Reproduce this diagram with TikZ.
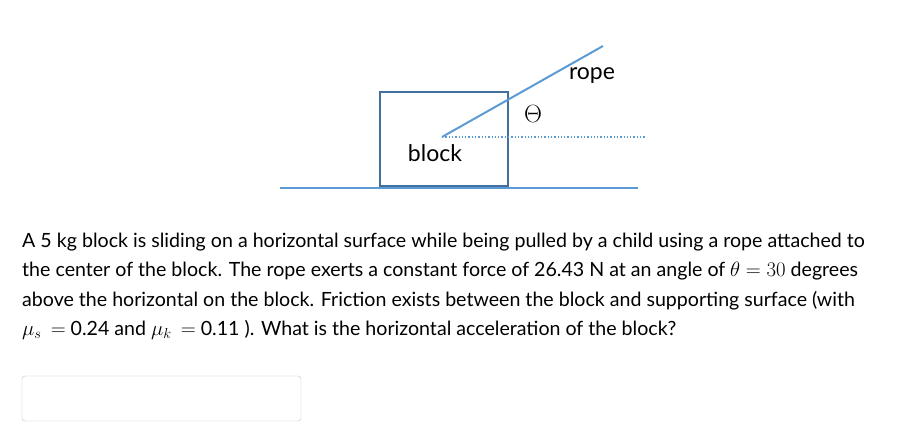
\documentclass[tikz,border=0pt]{standalone}
\usepackage{fontspec}
\setmainfont{Lato}
\definecolor{bl}{HTML}{5B9BD5}
\definecolor{bd}{HTML}{41719C}
\tikzset{txt/.style={anchor=west,inner sep=0pt,font=\fontsize{19.6}{22}\selectfont}}
\begin{document}
\begin{tikzpicture}[x=1pt,y=-1pt]
\useasboundingbox (0,0) rectangle (900,441);
\draw[bd,line width=1.5pt] (380,92) rectangle (508,186);
\draw[bl,line width=2pt] (280,188) coordinate (g1) -- (638,188) coordinate (g2);
\coordinate (c) at (442,137);
\coordinate (r) at (603,46);
\coordinate (d) at (646,137);
\draw[bl,line width=2pt] (c) -- (r);
\draw[bl,line width=1.3pt,dotted] (c) -- (d);
\node[font=\fontsize{24}{28}\selectfont] (th) at (533,114) {$\Theta$};
\node[font=\fontsize{23}{27}\selectfont] (rp) at (592,76) {rope};
\node[font=\fontsize{23}{27}\selectfont] (bk) at (435,153) {block};
\node[txt] (l1) at (22,242) {A 5 kg block is sliding on a horizontal surface while being pulled by a child using a rope attached to};
\node[txt] (l2) at (22,271) {the center of the block. The rope exerts a constant force of 26.43 N at an angle of $\theta = 30$ degrees};
\node[txt] (l3) at (22,301) {above the horizontal on the block. Friction exists between the block and supporting surface (with};
\node[txt] (l4) at (22,330) {$\mu_s\,=$ 0.24 and $\mu_k\,=$ 0.11 ). What is the horizontal acceleration of the block?};
\draw[gray!50,rounded corners=3pt] (22,376) rectangle (301,421);
\end{tikzpicture}
\end{document}
